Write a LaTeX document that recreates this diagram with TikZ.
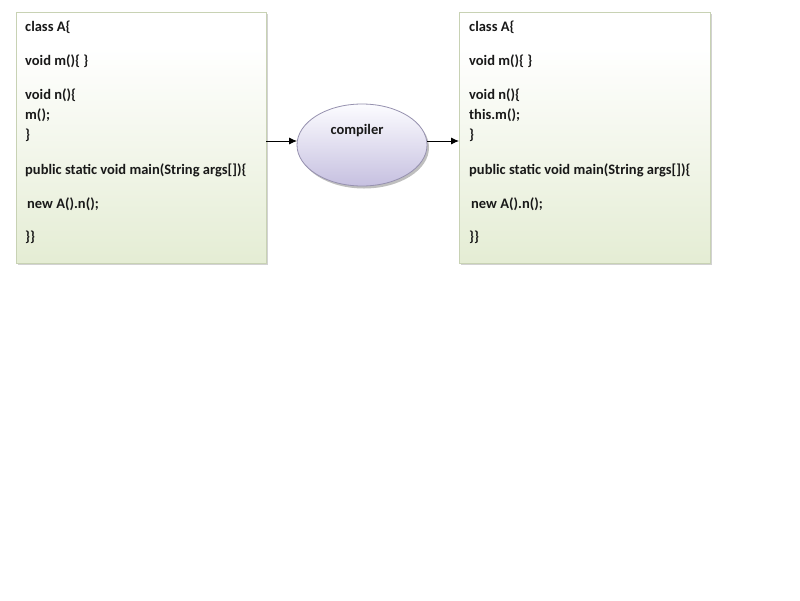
\documentclass[tikz,border=0pt]{standalone}
\usepackage{fontspec}
\setmainfont{Carlito}
\usetikzlibrary{arrows.meta,shadows}
\definecolor{boxbot}{RGB}{213,226,187}
\definecolor{boxtop}{RGB}{236,242,224}
\definecolor{boxline}{RGB}{200,210,180}
\definecolor{ellbot}{RGB}{198,192,224}
\definecolor{elltop}{RGB}{252,252,255}
\definecolor{ellline}{RGB}{150,145,175}
\pgfdeclareverticalshading{boxshade}{100bp}{
  color(0bp)=(boxbot); color(68bp)=(white); color(86bp)=(white); color(100bp)=(boxtop)}
\tikzset{
  codebox/.style={draw=boxline, line width=0.8pt, shading=boxshade,
    drop shadow={shadow xshift=1.5pt, shadow yshift=-1.5pt, opacity=0.35}},
  code/.style={anchor=base west, inner sep=0pt, font=\fontsize{14.5pt}{17pt}\selectfont\bfseries, text=black!90},
  compnode/.style={draw=ellline, line width=0.8pt, top color=elltop, bottom color=ellbot},
  conn/.style={-{Latex[length=8pt,width=7pt]}, line width=0.9pt}
}
\begin{document}
\begin{tikzpicture}[x=1pt,y=-1pt]
\useasboundingbox (0,0) rectangle (800,600);
\fill[white] (0,0) rectangle (800,600);
% boxes
\path[codebox] (16,12) rectangle (266,263);
\path[codebox] (459,12) rectangle (710,263);
\coordinate (L) at (266,141);
\coordinate (R) at (459,141);
% ellipse
\fill[black,opacity=0.25] (364,147.5) ellipse [x radius=65, y radius=41];
\path[compnode] (362,145) ellipse [x radius=65, y radius=41];
\coordinate (EL) at (297,141);
\coordinate (ER) at (427,141);
\node[code, anchor=base] (comp) at (357,134) {compiler};
% connectors
\draw[conn] (L) -- (EL);
\draw[conn] (ER) -- (R);
% left code
\node[code] (l1) at (25,31) {class A\{};
\node[code] (l2) at (25,65) {void m()\{ \}};
\node[code] (l3) at (25,99) {void n()\{};
\node[code] (l4) at (25,119) {m();};
\node[code] (l5) at (25,139) {\}};
\node[code] (l6) at (25,174) {public static void main(String args[])\{};
\node[code] (l7) at (27,208) {new A().n();};
\node[code] (l8) at (25,241) {\}\}};
% right code
\node[code] (r1) at (469,31) {class A\{};
\node[code] (r2) at (469,65) {void m()\{ \}};
\node[code] (r3) at (469,99) {void n()\{};
\node[code] (r4) at (469,119) {this.m();};
\node[code] (r5) at (469,139) {\}};
\node[code] (r6) at (469,174) {public static void main(String args[])\{};
\node[code] (r7) at (471,208) {new A().n();};
\node[code] (r8) at (469,241) {\}\}};
\end{tikzpicture}
\end{document}
